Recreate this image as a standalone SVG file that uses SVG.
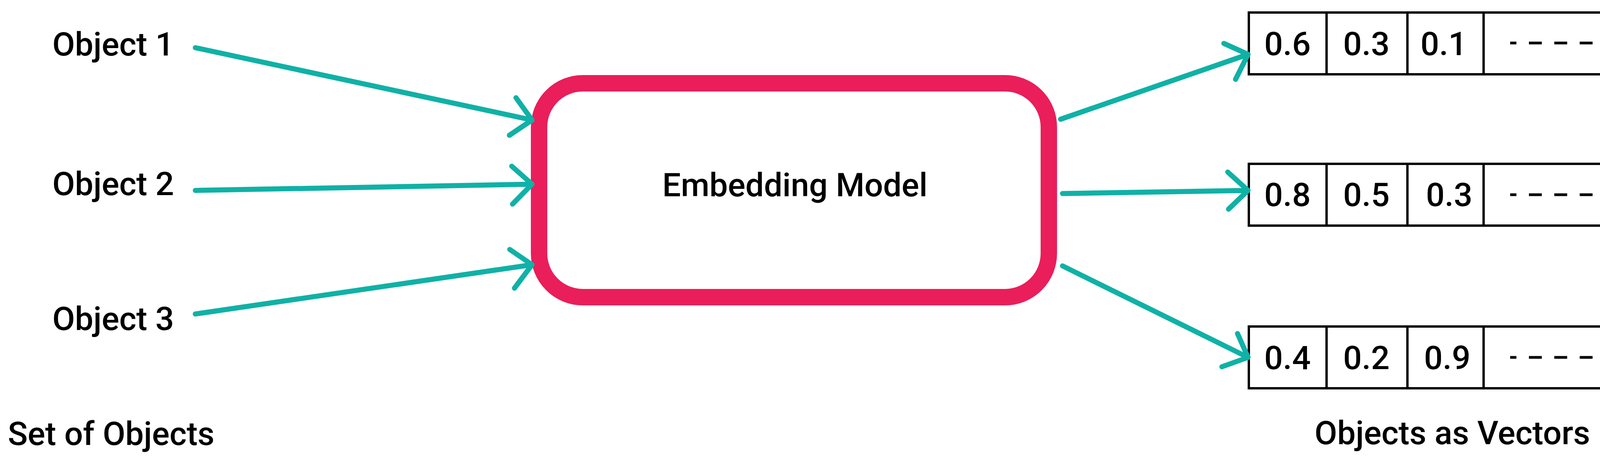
<svg xmlns="http://www.w3.org/2000/svg" width="4218" height="1179" viewBox="0 0 4218 1179">
<style>
.lbl{font-family:Roboto,"Liberation Sans",sans-serif;font-weight:500;font-size:84px;fill:#000}
.num{font-family:Roboto,"Liberation Sans",sans-serif;font-weight:500;font-size:84px;fill:#000;text-anchor:middle}
.cell{fill:#fff;stroke:#000;stroke-width:6}
.div{stroke:#000;stroke-width:6}
.dash{stroke:#000;stroke-width:7;stroke-dasharray:16 32 33 32 33 32 33 32 16}
.conn{fill:none;stroke:#10b1a6;stroke-width:13;stroke-linecap:round;stroke-linejoin:round}
</style>
<rect width="4218" height="1179" fill="#fff"/>
<g id="object1"><text class="lbl" x="134" y="142">Object 1</text></g>
<g id="object2"><text class="lbl" x="134" y="499">Object 2</text></g>
<g id="object3"><text class="lbl" x="134" y="844">Object 3</text></g>
<g id="set-label"><text class="lbl" x="20" y="1138">Set of Objects</text></g>
<g id="embedding-model">
<rect x="1380" y="213" width="1305" height="547" rx="112" ry="112" fill="#fff" stroke="#e91e5a" stroke-width="42"/>
<text class="lbl" x="2035" y="502" text-anchor="middle">Embedding Model</text>
</g>
<g id="vector1">
<rect class="cell" x="3197" y="32" width="995" height="158"/>
<line class="div" x1="3396" y1="32" x2="3396" y2="190"/>
<line class="div" x1="3603" y1="32" x2="3603" y2="190"/>
<line class="div" x1="3798" y1="32" x2="3798" y2="190"/>
<text class="num" x="3296" y="141">0.6</text>
<text class="num" x="3498" y="141">0.3</text>
<text class="num" x="3696" y="141">0.1</text>
<line class="dash" x1="3866" y1="110" x2="4125" y2="110"/>
</g>
<g id="vector2">
<rect class="cell" x="3197" y="419" width="995" height="158"/>
<line class="div" x1="3396" y1="419" x2="3396" y2="577"/>
<line class="div" x1="3603" y1="419" x2="3603" y2="577"/>
<line class="div" x1="3798" y1="419" x2="3798" y2="577"/>
<text class="num" x="3296" y="527">0.8</text>
<text class="num" x="3498" y="527">0.5</text>
<text class="num" x="3710" y="527">0.3</text>
<line class="dash" x1="3866" y1="498" x2="4125" y2="498"/>
</g>
<g id="vector3">
<rect class="cell" x="3197" y="835" width="995" height="158"/>
<line class="div" x1="3396" y1="835" x2="3396" y2="993"/>
<line class="div" x1="3603" y1="835" x2="3603" y2="993"/>
<line class="div" x1="3798" y1="835" x2="3798" y2="993"/>
<text class="num" x="3296" y="944">0.4</text>
<text class="num" x="3498" y="944">0.2</text>
<text class="num" x="3705" y="944">0.9</text>
<line class="dash" x1="3866" y1="914" x2="4125" y2="914"/>
</g>
<g id="vectors-label"><text class="lbl" x="3718" y="1136" text-anchor="middle">Objects as Vectors</text></g>
<g id="connectors">
<path class="conn" d="M500,122 L1362,307 M1321,250 L1362,307 L1304,346"/>
<path class="conn" d="M500,487 L1362,471 M1310,425 L1362,471 L1312,522"/>
<path class="conn" d="M500,803 L1362,677 M1305,638 L1362,677 L1317,737"/>
<path class="conn" d="M2715,305 L3195,139 M3133,111 L3195,139 L3163,203"/>
<path class="conn" d="M2720,495 L3195,487 M3143,440 L3195,487 L3145,535"/>
<path class="conn" d="M2720,680 L3195,914 M3168,853 L3195,914 L3128,938"/>
</g>
</svg>
